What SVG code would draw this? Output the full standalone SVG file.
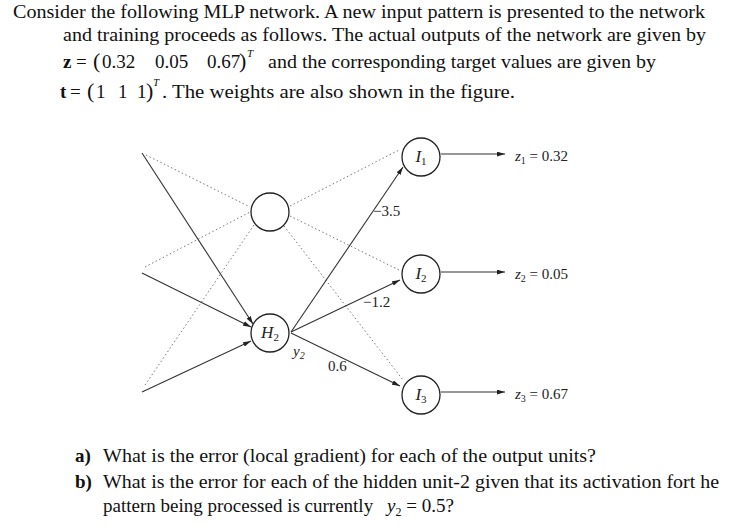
<svg xmlns="http://www.w3.org/2000/svg" width="743" height="525" viewBox="0 0 743 525">
<defs>
<marker id="ah" viewBox="0 0 10 6" refX="10" refY="3" markerWidth="8" markerHeight="5" orient="auto" markerUnits="userSpaceOnUse"><path d="M0,0L10,3L0,6z" fill="#222"/></marker>
<style>
.t{font-family:"Liberation Serif",serif;font-size:19px;fill:#111}
.m{font-family:"Liberation Serif",serif;font-size:15px;fill:#222}
.L{font-family:"Liberation Serif",serif;font-size:17px;fill:#222}
.n{fill:#fff;stroke:#222;stroke-width:1.3}
.s{stroke:#333;stroke-width:1.1;fill:none}
.d{stroke:#777;stroke-width:1;stroke-dasharray:1.5 2.5;fill:none}
</style>
</defs>
<rect width="743" height="525" fill="#fff"/>
<g id="text">
<text class="t" x="13" y="18" textLength="692" lengthAdjust="spacingAndGlyphs">Consider the following MLP network. A new input pattern is presented to the network</text>
<text class="t" x="63" y="41" textLength="643" lengthAdjust="spacingAndGlyphs">and training proceeds as follows. The actual outputs of the network are given by</text>
<text class="t" y="68"><tspan x="63" font-weight="bold">z</tspan><tspan x="76">=</tspan><tspan x="93" font-size="22">(</tspan><tspan x="102">0.32</tspan><tspan x="155">0.05</tspan><tspan x="207">0.67</tspan><tspan x="239" font-size="22">)</tspan><tspan x="247" y="57" font-size="11" font-style="italic">T</tspan></text>
<text class="t" x="268" y="68" textLength="388" lengthAdjust="spacingAndGlyphs">and the corresponding target values are given by</text>
<text class="t" y="98"><tspan x="60" font-weight="bold">t</tspan><tspan x="70">=</tspan><tspan x="87" font-size="22">(</tspan><tspan x="96">1</tspan><tspan x="118">1</tspan><tspan x="137">1</tspan><tspan x="146" font-size="22">)</tspan><tspan x="153" y="86" font-size="11" font-style="italic">T</tspan></text>
<text class="t" x="162" y="98" textLength="353" lengthAdjust="spacingAndGlyphs">. The weights are also shown in the figure.</text>
<text class="t" x="75" y="462"><tspan font-weight="bold">a)</tspan></text>
<text class="t" x="103" y="462" textLength="493" lengthAdjust="spacingAndGlyphs">What is the error (local gradient) for each of the output units?</text>
<text class="t" x="75" y="488"><tspan font-weight="bold">b)</tspan></text>
<text class="t" x="103" y="488" textLength="616" lengthAdjust="spacingAndGlyphs">What is the error for each of the hidden unit-2 given that its activation fort he</text>
<text class="t" y="512"><tspan x="103">pattern being processed is currently</tspan><tspan x="387" font-style="italic">y</tspan><tspan font-size="12" dy="4">2</tspan><tspan dy="-4"> = 0.5?</tspan></text>
</g>
<g id="connectors">
<line class="d" x1="146" y1="155" x2="250" y2="207"/>
<line class="d" x1="145" y1="267" x2="250" y2="212"/>
<line class="d" x1="145" y1="385" x2="256" y2="222"/>
<line class="d" x1="290" y1="206" x2="399" y2="150"/>
<line class="d" x1="290" y1="216" x2="399" y2="270"/>
<line class="d" x1="284" y1="226" x2="403" y2="380"/>
<line class="s" x1="142" y1="153" x2="253" y2="324" marker-end="url(#ah)"/>
<line class="s" x1="142" y1="273" x2="251" y2="327" marker-end="url(#ah)"/>
<line class="s" x1="142" y1="392" x2="251" y2="341" marker-end="url(#ah)"/>
<line class="s" x1="291" y1="332" x2="403" y2="167" marker-end="url(#ah)"/>
<line class="s" x1="291" y1="332" x2="400" y2="280" marker-end="url(#ah)"/>
<line class="s" x1="291" y1="333" x2="400" y2="386" marker-end="url(#ah)"/>
<line class="s" x1="441" y1="154" x2="505" y2="154" marker-end="url(#ah)"/>
<line class="s" x1="441" y1="272" x2="505" y2="272" marker-end="url(#ah)"/>
<line class="s" x1="441" y1="392" x2="505" y2="392" marker-end="url(#ah)"/>
<text class="m" x="373" y="216">−3.5</text>
<text class="m" x="363" y="307">−1.2</text>
<text class="m" x="328" y="371">0.6</text>
<text class="m" x="293" y="356" font-style="italic">y<tspan font-size="10" dy="3">2</tspan></text>
</g>
<g id="hidden1"><circle class="n" cx="270" cy="212" r="19"/></g>
<g id="H2"><circle class="n" cx="270" cy="333" r="19"/><text class="L" x="270" y="338" text-anchor="middle"><tspan font-style="italic">H</tspan><tspan font-size="11" dy="3">2</tspan></text></g>
<g id="I1"><circle class="n" cx="421" cy="157" r="19"/><text class="L" x="421" y="162" text-anchor="middle"><tspan font-style="italic">I</tspan><tspan font-size="11" dy="3">1</tspan></text></g>
<g id="I2"><circle class="n" cx="421" cy="274" r="19"/><text class="L" x="421" y="279" text-anchor="middle"><tspan font-style="italic">I</tspan><tspan font-size="11" dy="3">2</tspan></text></g>
<g id="I3"><circle class="n" cx="421" cy="395" r="19"/><text class="L" x="421" y="400" text-anchor="middle"><tspan font-style="italic">I</tspan><tspan font-size="11" dy="3">3</tspan></text></g>
<g id="outputs">
<text class="m" x="515" y="161"><tspan font-style="italic">z</tspan><tspan font-size="10" dy="3">1</tspan><tspan dy="-3"> = 0.32</tspan></text>
<text class="m" x="515" y="279"><tspan font-style="italic">z</tspan><tspan font-size="10" dy="3">2</tspan><tspan dy="-3"> = 0.05</tspan></text>
<text class="m" x="515" y="399"><tspan font-style="italic">z</tspan><tspan font-size="10" dy="3">3</tspan><tspan dy="-3"> = 0.67</tspan></text>
</g>
</svg>
